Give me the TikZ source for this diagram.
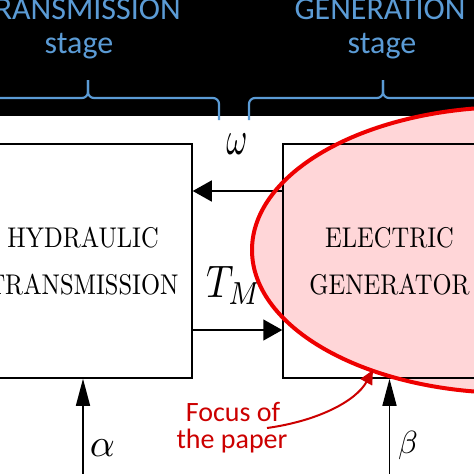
\documentclass[tikz,border=0pt]{standalone}
\usepackage{fontspec}
\newfontfamily\calib{Carlito}
\usetikzlibrary{arrows.meta}
\definecolor{bandblue}{RGB}{91,155,213}
\definecolor{focusred}{RGB}{238,0,0}
\definecolor{focusfill}{RGB}{255,214,216}
\definecolor{notered}{RGB}{204,0,0}
\newcommand{\boxtxt}[1]{\scalebox{2.45}[2.85]{#1}}
\tikzset{
  bluetxt/.style={text=bandblue, font=\calib\fontsize{32}{35}\selectfont, inner sep=0pt},
  bracepath/.style={draw=bandblue, line width=2.2pt, rounded corners=6pt},
  blockbox/.style={draw=black, line width=1.5pt, align=center, inner sep=0pt,
    font=\fontsize{10}{47}\selectfont},
  harrow/.style={draw=black, line width=1.5pt, -{Triangle[length=19pt,width=21pt]}},
  varrow/.style={draw=black, line width=1.5pt, -{Triangle[length=27pt,width=14pt]}},
  mathlbl/.style={inner sep=0pt},
  notetxt/.style={text=notered, font=\calib\fontsize{28}{28}\selectfont, inner sep=0pt},
  notearrow/.style={draw=notered, line width=2pt, -{Triangle[length=14pt,width=13pt]}}
}
\begin{document}
\begin{tikzpicture}[x=1pt,y=-1pt]
\useasboundingbox (0,0) rectangle (474,474);
\fill[white] (0,0) rectangle (474,474);
% black band
\fill[black] (0,0) rectangle (474,116);
% blue titles
\node[bluetxt, anchor=base] (t1) at (80,19) {TRANSMISSION};
\node[bluetxt, anchor=base] (t2) at (79,53) {stage};
\node[bluetxt, anchor=base] (g1) at (380,19) {GENERATION};
\node[bluetxt, anchor=base] (g2) at (382,53) {stage};
% braces
\draw[bracepath] (-5,98) -- (88,98) -- (88,80);
\draw[bracepath] (88,80) -- (88,98) -- (219,98) -- (219,120);
\draw[bracepath] (249,120) -- (249,98) -- (383,98) -- (383,80);
\draw[bracepath] (383,80) -- (383,98) -- (480,98);
% focus ellipse fill
\fill[focusfill] (512,250) ellipse [x radius=260pt, y radius=143pt];
% blocks
\node[blockbox, minimum width=218pt, minimum height=234pt] (hyd) at (83,261)
  {\boxtxt{HYDRAULIC}\\\boxtxt{TRANSMISSION}};
\node[blockbox, minimum width=213pt, minimum height=234pt] (gen) at (389.5,261)
  {\boxtxt{ELECTRIC}\\\boxtxt{GENERATOR}};
% connectors
\coordinate (wy) at (0,191);
\coordinate (ty) at (0,330);
\coordinate (a0) at (83,480);
\coordinate (b0) at (389.5,480);
\draw[harrow] (gen.west |- wy) -- (hyd.east |- wy);
\draw[harrow] (hyd.east |- ty) -- (gen.west |- ty);
\draw[varrow] (a0) -- (hyd.south);
\draw[varrow] (b0) -- (gen.south);
% labels
\node[mathlbl] (om) at (237,144) {\scalebox{3.2}[4.8]{$\omega$}};
\node[mathlbl] (tm) at (234,285) {\scalebox{3.8}[4.56]{$T_M$}};
\node[mathlbl] (al) at (102.5,448.5) {\scalebox{3.9}{$\alpha$}};
\node[mathlbl] (be) at (408,445) {\scalebox{3.2}{$\beta$}};
% focus outline
\draw[focusred, line width=4pt] (512,250) ellipse [x radius=260pt, y radius=143pt];
% note
\node[notetxt, anchor=base] (n1) at (233,421) {Focus of};
\node[notetxt, anchor=base] (n2) at (232,448) {the paper};
\coordinate (fa) at (267,428);
\coordinate (fb) at (373,370);
\draw[notearrow] (fa) .. controls (318,421) and (356,401) .. (fb);
\end{tikzpicture}
\end{document}
